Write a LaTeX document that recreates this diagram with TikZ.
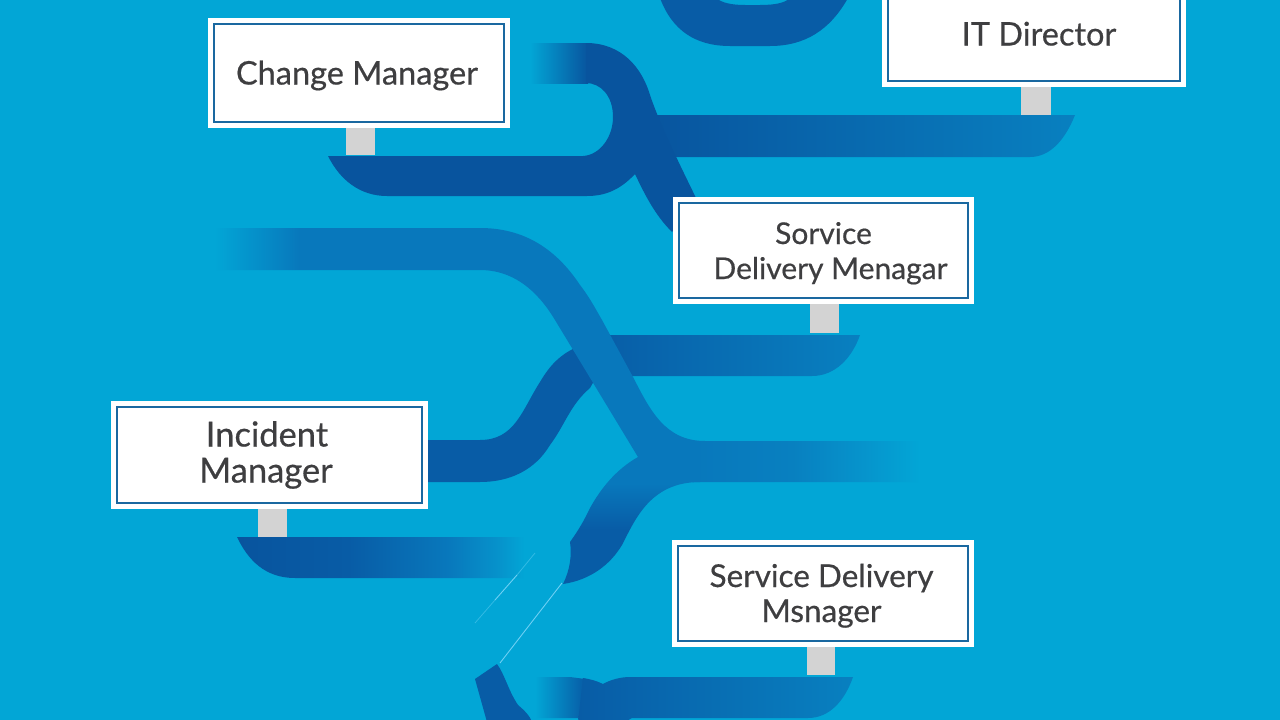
\documentclass[tikz,border=0pt]{standalone}
\usepackage{fontspec}
\setmainfont{Lato}[FakeBold=0.5]
\definecolor{bgblue}{RGB}{2,166,214}
\definecolor{darkrib}{RGB}{8,84,158}
\definecolor{darkrib2}{RGB}{8,92,166}
\definecolor{midrib}{RGB}{8,120,188}
\definecolor{midrib2}{RGB}{8,128,192}
\definecolor{softrib}{RGB}{6,148,204}
\definecolor{linebox}{RGB}{26,104,160}
\definecolor{posts}{RGB}{211,211,211}
\definecolor{inktext}{RGB}{62,62,64}
\definecolor{glint}{RGB}{110,208,244}
\definecolor{glintsoft}{RGB}{50,186,228}
\pgfdeclarehorizontalshading{mainfade}{100bp}{color(0bp)=(bgblue); color(25bp)=(bgblue); color(31bp)=(midrib); color(59bp)=(midrib); color(66bp)=(midrib2); color(71bp)=(softrib); color(75bp)=(bgblue); color(100bp)=(bgblue)}
\pgfdeclarehorizontalshading{lowfade}{100bp}{color(0bp)=(darkrib); color(25bp)=(darkrib); color(44bp)=(darkrib2); color(61bp)=(midrib); color(70bp)=(softrib); color(74bp)=(bgblue); color(100bp)=(bgblue)}
\pgfdeclareverticalshading{forkfade}{100bp}{color(0bp)=(darkrib2); color(44bp)=(darkrib2); color(60bp)=(midrib); color(100bp)=(midrib)}
\newcommand{\sgnline}[2]{\raisebox{-#1pt}[20pt][8pt]{#2}}
\tikzset{
  signbox/.style={draw=linebox,fill=white,line width=1.2pt,
    preaction={draw=white,line width=12pt},
    inner sep=0pt,align=center,text=inktext},
  postbar/.style={fill=posts},
  darkfill/.style={fill=darkrib},
  glintline/.style={draw=glint,line width=0.9pt},
  softline/.style={draw=glintsoft,line width=0.8pt}
}
\begin{document}
\begin{tikzpicture}[x=1pt,y=-1pt]
\useasboundingbox (0,0) rectangle (1280,720);
\clip (0,0) rectangle (1280,720);
\fill[bgblue] (0,0) rectangle (1280,720);
% top arc
\fill[darkrib2] (660,-2) .. controls (672,30) and (695,46) .. (730,46) -- (770,46) .. controls (805,46) and (830,30) .. (848,-2) -- (790,-2) .. controls (785,3) and (775,5) .. (760,5) -- (745,5) .. controls (732,5) and (722,3) .. (716,-2) -- cycle;
% right ribbon under IT Director
\shade[left color=darkrib,right color=midrib2] (645,115) -- (1075,115) .. controls (1065,140) and (1050,157) .. (1030,157) -- (665,157) -- cycle;
% Change Manager ribbon
\shade[left color=bgblue,right color=darkrib] (530,43) -- (588,43) -- (588,83) -- (530,83) -- cycle;
\fill[darkfill] (586,43) .. controls (622,43) and (642,68) .. (650,95) .. controls (660,125) and (680,165) .. (697,200) -- (672,232) .. controls (655,215) and (645,195) .. (635,174) .. controls (620,190) and (605,196) .. (587,196) -- (387,196) .. controls (360,196) and (340,180) .. (328,156) -- (583,156) .. controls (600,155) and (613,137) .. (613,117) .. controls (613,95) and (600,83) .. (586,83) -- cycle;
% Service ribbon right branch
\shade[left color=darkrib2,right color=midrib2] (590,335) -- (860,335) .. controls (852,358) and (835,376) .. (812,376) -- (610,376) -- cycle;
% Incident ribbon
\fill[darkrib2] (428,440) -- (480,440) .. controls (515,440) and (522,410) .. (540,382) .. controls (550,365) and (560,355) .. (575,348) -- (600,370) -- (590,388) .. controls (570,405) and (565,425) .. (550,445) .. controls (535,470) and (510,482) .. (480,482) -- (428,482) -- cycle;
% lower fork branch
\shade[shading=forkfade] (638,457) .. controls (615,470) and (600,490) .. (590,508) .. controls (582,525) and (575,535) .. (570,542) .. controls (572,555) and (570,570) .. (563,584) .. controls (590,580) and (610,565) .. (622,545) .. controls (635,520) and (650,482) .. (700,482) -- (720,470) -- (690,440) -- cycle;
% main ribbon
\shade[shading=mainfade] (215,228) -- (480,228) .. controls (530,228) and (560,255) .. (580,285) .. controls (590,298) and (595,308) .. (602,320) -- (633,377) .. controls (650,410) and (665,441) .. (705,441) -- (920,441) -- (920,482) -- (693,482) .. controls (675,482) and (655,478) .. (638,457) -- (555,320) .. controls (543,300) and (520,270) .. (480,270) -- (215,270) -- cycle;
% bottom-left ribbon
\shade[shading=lowfade] (237,537) -- (530,537) -- (530,578) -- (295,578) .. controls (265,578) and (248,560) .. (237,537) -- cycle;
% glints
\draw[softline] (535,553) -- (517,575);
\draw[glintline] (517,575) -- (495,600);
\draw[softline] (495,600) -- (475,623);
\draw[glintline] (562,583) -- (500,663);
% bottom shapes
\fill[darkrib2] (475,679) -- (497,664) .. controls (505,675) and (508,690) .. (518,705) .. controls (524,710) and (530,716) .. (532,722) -- (487,722) -- cycle;
\shade[left color=bgblue,right color=darkrib2] (535,677) -- (570,677) -- (585,679) -- (585,718) -- (535,718) -- cycle;
\shade[left color=darkrib2,right color=midrib2] (583,678) .. controls (590,679) and (597,681) .. (603,684) .. controls (610,680) and (620,677) .. (630,677) -- (853,677) .. controls (845,700) and (830,718) .. (808,718) -- (632,718) -- (625,722) -- (578,722) -- cycle;
% posts
\fill[postbar] (346,127) rectangle (375,155);
\fill[postbar] (1021,87) rectangle (1051,115);
\fill[postbar] (810,304) rectangle (839,333);
\fill[postbar] (258,509) rectangle (287,537);
\fill[postbar] (807,647) rectangle (835,675);
% signs
\node[signbox,minimum width=290pt,minimum height=98pt,font=\fontsize{32.5}{36}\selectfont] (change) at (359,73) {\sgnline{5.5}{Change Manager\hspace*{4pt}}};
\node[signbox,minimum width=292pt,minimum height=96pt,font=\fontsize{32.5}{36}\selectfont] (itdir) at (1034,33) {\sgnline{6.5}{\hspace*{10pt}IT Director}};
\node[signbox,minimum width=289pt,minimum height=95pt,font=\fontsize{30}{35}\selectfont] (sdone) at (823.5,250.5) {\sgnline{5}{Sorvice}\\\sgnline{5}{\hspace*{14pt}Delivery Menagar}};
\node[signbox,minimum width=305pt,minimum height=96pt,font=\fontsize{34.5}{36}\selectfont] (incident) at (269.5,455) {\sgnline{3.5}{Incident\hspace*{5pt}}\\\sgnline{3.5}{Manager\hspace*{7pt}}};
\node[signbox,minimum width=290pt,minimum height=95pt,font=\fontsize{31.5}{35}\selectfont] (sdtwo) at (823,593.5) {\sgnline{5}{Service Delivery\hspace*{3pt}}\\\sgnline{5}{Msnager\hspace*{3pt}}};
\end{tikzpicture}
\end{document}
